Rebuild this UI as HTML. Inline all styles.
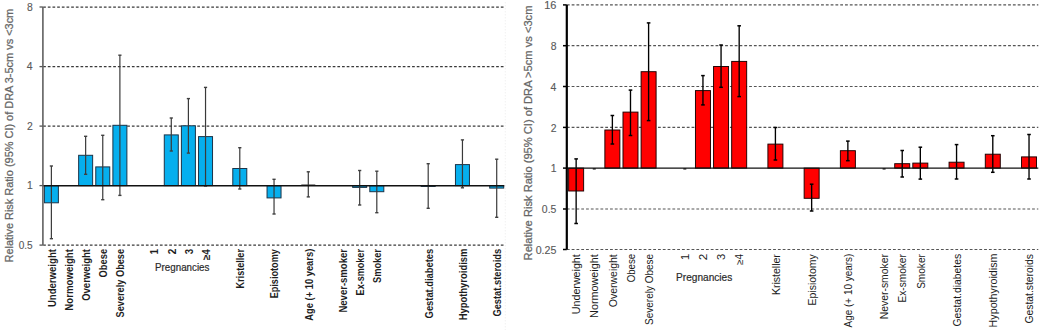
<!DOCTYPE html>
<html><head><meta charset="utf-8"><style>
html,body{margin:0;padding:0;background:#fff;}
body{width:1040px;height:332px;overflow:hidden;}
svg{display:block;font-family:"Liberation Sans", sans-serif;}
</style></head><body>
<svg width="1040" height="332" viewBox="0 0 1040 332">
<rect width="1040" height="332" fill="#fff"/>
<line x1="43.15" y1="7.0" x2="504.6" y2="7.0" stroke="#3a3a3a" stroke-width="1.25" stroke-dasharray="2.7 1.97"/>
<line x1="43.15" y1="66.6" x2="504.6" y2="66.6" stroke="#3a3a3a" stroke-width="1.25" stroke-dasharray="2.7 1.97"/>
<line x1="43.15" y1="126.1" x2="504.6" y2="126.1" stroke="#3a3a3a" stroke-width="1.25" stroke-dasharray="2.7 1.97"/>
<line x1="43.15" y1="245.1" x2="504.6" y2="245.1" stroke="#3a3a3a" stroke-width="1.25" stroke-dasharray="2.7 1.97"/>
<line x1="39.5" y1="7.0" x2="42.9" y2="7.0" stroke="#555" stroke-width="1.3"/>
<line x1="39.5" y1="66.6" x2="42.9" y2="66.6" stroke="#555" stroke-width="1.3"/>
<line x1="39.5" y1="126.1" x2="42.9" y2="126.1" stroke="#555" stroke-width="1.3"/>
<line x1="39.5" y1="185.6" x2="42.9" y2="185.6" stroke="#555" stroke-width="1.3"/>
<line x1="39.5" y1="245.1" x2="42.9" y2="245.1" stroke="#555" stroke-width="1.3"/>
<text x="26.96" y="10.60" font-size="10.4" stroke="#595959" stroke-width="0.12" fill="#595959" textLength="5.78" lengthAdjust="spacingAndGlyphs">8</text>
<text x="26.82" y="70.20" font-size="10.4" stroke="#595959" stroke-width="0.12" fill="#595959" textLength="5.78" lengthAdjust="spacingAndGlyphs">4</text>
<text x="27.04" y="129.70" font-size="10.4" stroke="#595959" stroke-width="0.12" fill="#595959" textLength="5.78" lengthAdjust="spacingAndGlyphs">2</text>
<text x="27.03" y="189.20" font-size="10.4" stroke="#595959" stroke-width="0.12" fill="#595959" textLength="5.78" lengthAdjust="spacingAndGlyphs">1</text>
<text x="18.71" y="248.70" font-size="10.4" stroke="#595959" stroke-width="0.12" fill="#595959" textLength="14.02" lengthAdjust="spacingAndGlyphs">0.5</text>
<rect x="44.38" y="185.6" width="14.0" height="17.20" fill="#06AFEE" stroke="#1c3448" stroke-width="1"/>
<rect x="78.64" y="155.3" width="14.0" height="30.30" fill="#06AFEE" stroke="#1c3448" stroke-width="1"/>
<rect x="95.76" y="166.9" width="14.0" height="18.70" fill="#06AFEE" stroke="#1c3448" stroke-width="1"/>
<rect x="112.89" y="125.3" width="14.0" height="60.30" fill="#06AFEE" stroke="#1c3448" stroke-width="1"/>
<rect x="164.28" y="134.9" width="14.0" height="50.70" fill="#06AFEE" stroke="#1c3448" stroke-width="1"/>
<rect x="181.40" y="125.8" width="14.0" height="59.80" fill="#06AFEE" stroke="#1c3448" stroke-width="1"/>
<rect x="198.53" y="136.6" width="14.0" height="49.00" fill="#06AFEE" stroke="#1c3448" stroke-width="1"/>
<rect x="232.79" y="168.5" width="14.0" height="17.10" fill="#06AFEE" stroke="#1c3448" stroke-width="1"/>
<rect x="267.04" y="185.6" width="14.0" height="12.30" fill="#06AFEE" stroke="#1c3448" stroke-width="1"/>
<line x1="301.30" y1="184.6" x2="315.30" y2="184.6" stroke="#8a8a8a" stroke-width="1"/>
<rect x="352.68" y="185.6" width="14.0" height="1.80" fill="#06AFEE" stroke="#1c3448" stroke-width="1"/>
<rect x="369.81" y="185.6" width="14.0" height="6.10" fill="#06AFEE" stroke="#1c3448" stroke-width="1"/>
<rect x="421.20" y="185.6" width="14.0" height="0.80" fill="#06AFEE" stroke="#1c3448" stroke-width="1"/>
<rect x="455.45" y="164.6" width="14.0" height="21.00" fill="#06AFEE" stroke="#1c3448" stroke-width="1"/>
<rect x="489.71" y="185.6" width="14.0" height="2.50" fill="#06AFEE" stroke="#1c3448" stroke-width="1"/>
<line x1="51.38" y1="166" x2="51.38" y2="238.7" stroke="#3a3a3a" stroke-width="1.2"/>
<line x1="49.78" y1="166" x2="52.98" y2="166" stroke="#404040" stroke-width="1.4"/>
<line x1="49.78" y1="238.7" x2="52.98" y2="238.7" stroke="#404040" stroke-width="1.4"/>
<line x1="85.64" y1="136.3" x2="85.64" y2="174.3" stroke="#3a3a3a" stroke-width="1.2"/>
<line x1="84.04" y1="136.3" x2="87.24" y2="136.3" stroke="#404040" stroke-width="1.4"/>
<line x1="84.04" y1="174.3" x2="87.24" y2="174.3" stroke="#404040" stroke-width="1.4"/>
<line x1="102.76" y1="135.3" x2="102.76" y2="199.7" stroke="#3a3a3a" stroke-width="1.2"/>
<line x1="101.16" y1="135.3" x2="104.36" y2="135.3" stroke="#404040" stroke-width="1.4"/>
<line x1="101.16" y1="199.7" x2="104.36" y2="199.7" stroke="#404040" stroke-width="1.4"/>
<line x1="119.89" y1="55.2" x2="119.89" y2="195.4" stroke="#3a3a3a" stroke-width="1.2"/>
<line x1="118.29" y1="55.2" x2="121.49" y2="55.2" stroke="#404040" stroke-width="1.4"/>
<line x1="118.29" y1="195.4" x2="121.49" y2="195.4" stroke="#404040" stroke-width="1.4"/>
<line x1="171.28" y1="118" x2="171.28" y2="151" stroke="#3a3a3a" stroke-width="1.2"/>
<line x1="169.68" y1="118" x2="172.88" y2="118" stroke="#404040" stroke-width="1.4"/>
<line x1="169.68" y1="151" x2="172.88" y2="151" stroke="#404040" stroke-width="1.4"/>
<line x1="188.40" y1="98.6" x2="188.40" y2="153.1" stroke="#3a3a3a" stroke-width="1.2"/>
<line x1="186.80" y1="98.6" x2="190.00" y2="98.6" stroke="#404040" stroke-width="1.4"/>
<line x1="186.80" y1="153.1" x2="190.00" y2="153.1" stroke="#404040" stroke-width="1.4"/>
<line x1="205.53" y1="87.4" x2="205.53" y2="186" stroke="#3a3a3a" stroke-width="1.2"/>
<line x1="203.93" y1="87.4" x2="207.13" y2="87.4" stroke="#404040" stroke-width="1.4"/>
<line x1="203.93" y1="186" x2="207.13" y2="186" stroke="#404040" stroke-width="1.4"/>
<line x1="239.79" y1="147.7" x2="239.79" y2="189" stroke="#3a3a3a" stroke-width="1.2"/>
<line x1="238.19" y1="147.7" x2="241.39" y2="147.7" stroke="#404040" stroke-width="1.4"/>
<line x1="238.19" y1="189" x2="241.39" y2="189" stroke="#404040" stroke-width="1.4"/>
<line x1="274.04" y1="179.3" x2="274.04" y2="214" stroke="#3a3a3a" stroke-width="1.2"/>
<line x1="272.44" y1="179.3" x2="275.64" y2="179.3" stroke="#404040" stroke-width="1.4"/>
<line x1="272.44" y1="214" x2="275.64" y2="214" stroke="#404040" stroke-width="1.4"/>
<line x1="308.30" y1="171.8" x2="308.30" y2="196.9" stroke="#3a3a3a" stroke-width="1.2"/>
<line x1="306.70" y1="171.8" x2="309.90" y2="171.8" stroke="#404040" stroke-width="1.4"/>
<line x1="306.70" y1="196.9" x2="309.90" y2="196.9" stroke="#404040" stroke-width="1.4"/>
<line x1="359.68" y1="170.5" x2="359.68" y2="205" stroke="#3a3a3a" stroke-width="1.2"/>
<line x1="358.08" y1="170.5" x2="361.28" y2="170.5" stroke="#404040" stroke-width="1.4"/>
<line x1="358.08" y1="205" x2="361.28" y2="205" stroke="#404040" stroke-width="1.4"/>
<line x1="376.81" y1="171.2" x2="376.81" y2="212.7" stroke="#3a3a3a" stroke-width="1.2"/>
<line x1="375.21" y1="171.2" x2="378.41" y2="171.2" stroke="#404040" stroke-width="1.4"/>
<line x1="375.21" y1="212.7" x2="378.41" y2="212.7" stroke="#404040" stroke-width="1.4"/>
<line x1="428.20" y1="163.7" x2="428.20" y2="208.3" stroke="#3a3a3a" stroke-width="1.2"/>
<line x1="426.60" y1="163.7" x2="429.80" y2="163.7" stroke="#404040" stroke-width="1.4"/>
<line x1="426.60" y1="208.3" x2="429.80" y2="208.3" stroke="#404040" stroke-width="1.4"/>
<line x1="462.45" y1="139.9" x2="462.45" y2="187.8" stroke="#3a3a3a" stroke-width="1.2"/>
<line x1="460.85" y1="139.9" x2="464.05" y2="139.9" stroke="#404040" stroke-width="1.4"/>
<line x1="460.85" y1="187.8" x2="464.05" y2="187.8" stroke="#404040" stroke-width="1.4"/>
<line x1="496.71" y1="159.2" x2="496.71" y2="217.3" stroke="#3a3a3a" stroke-width="1.2"/>
<line x1="495.11" y1="159.2" x2="498.31" y2="159.2" stroke="#404040" stroke-width="1.4"/>
<line x1="495.11" y1="217.3" x2="498.31" y2="217.3" stroke="#404040" stroke-width="1.4"/>
<line x1="42.9" y1="185.7" x2="504.3" y2="185.7" stroke="#111" stroke-width="1.65"/>
<line x1="42.9" y1="7.0" x2="42.9" y2="245.1" stroke="#606060" stroke-width="1.6"/>
<text transform="translate(55.68,307.07) rotate(-90)" font-size="10.6" font-weight="bold" fill="#1e1e1e" textLength="57.99" lengthAdjust="spacingAndGlyphs">Underweight</text>
<text transform="translate(72.81,310.65) rotate(-90)" font-size="10.6" font-weight="bold" fill="#1e1e1e" textLength="61.56" lengthAdjust="spacingAndGlyphs">Normoweight</text>
<text transform="translate(89.94,300.79) rotate(-90)" font-size="10.6" font-weight="bold" fill="#1e1e1e" textLength="51.70" lengthAdjust="spacingAndGlyphs">Overweight</text>
<text transform="translate(107.06,277.38) rotate(-90)" font-size="10.6" font-weight="bold" fill="#1e1e1e" textLength="28.50" lengthAdjust="spacingAndGlyphs">Obese</text>
<text transform="translate(124.19,317.47) rotate(-90)" font-size="10.6" font-weight="bold" fill="#1e1e1e" textLength="68.58" lengthAdjust="spacingAndGlyphs">Severely Obese</text>
<text transform="translate(158.45,254.42) rotate(-90)" font-size="10.6" font-weight="bold" fill="#1e1e1e" textLength="5.50" lengthAdjust="spacingAndGlyphs">1</text>
<text transform="translate(175.58,254.35) rotate(-90)" font-size="10.6" font-weight="bold" fill="#1e1e1e" textLength="5.55" lengthAdjust="spacingAndGlyphs">2</text>
<text transform="translate(192.70,254.22) rotate(-90)" font-size="10.6" font-weight="bold" fill="#1e1e1e" textLength="5.37" lengthAdjust="spacingAndGlyphs">3</text>
<text transform="translate(209.83,260.04) rotate(-90)" font-size="10.6" font-weight="bold" fill="#1e1e1e" textLength="10.89" lengthAdjust="spacingAndGlyphs">≥4</text>
<text transform="translate(244.09,288.51) rotate(-90)" font-size="10.6" font-weight="bold" fill="#1e1e1e" textLength="39.45" lengthAdjust="spacingAndGlyphs">Kristeller</text>
<text transform="translate(278.34,298.31) rotate(-90)" font-size="10.6" font-weight="bold" fill="#1e1e1e" textLength="49.15" lengthAdjust="spacingAndGlyphs">Episiotomy</text>
<text transform="translate(312.60,320.73) rotate(-90)" font-size="10.6" font-weight="bold" fill="#1e1e1e" textLength="72.00" lengthAdjust="spacingAndGlyphs">Age (+ 10 years)</text>
<text transform="translate(346.86,312.54) rotate(-90)" font-size="10.6" font-weight="bold" fill="#1e1e1e" textLength="63.48" lengthAdjust="spacingAndGlyphs">Never-smoker</text>
<text transform="translate(363.98,295.41) rotate(-90)" font-size="10.6" font-weight="bold" fill="#1e1e1e" textLength="46.34" lengthAdjust="spacingAndGlyphs">Ex-smoker</text>
<text transform="translate(381.11,282.97) rotate(-90)" font-size="10.6" font-weight="bold" fill="#1e1e1e" textLength="33.91" lengthAdjust="spacingAndGlyphs">Smoker</text>
<text transform="translate(432.50,318.38) rotate(-90)" font-size="10.6" font-weight="bold" fill="#1e1e1e" textLength="69.57" lengthAdjust="spacingAndGlyphs">Gestat.diabetes</text>
<text transform="translate(466.75,320.33) rotate(-90)" font-size="10.6" font-weight="bold" fill="#1e1e1e" textLength="71.71" lengthAdjust="spacingAndGlyphs">Hypothyroidism</text>
<text transform="translate(501.01,316.58) rotate(-90)" font-size="10.6" font-weight="bold" fill="#1e1e1e" textLength="67.77" lengthAdjust="spacingAndGlyphs">Gestat.steroids</text>
<text x="155.10" y="270.70" font-size="10.6" stroke="#2a2a2a" stroke-width="0.2" fill="#2a2a2a" textLength="54.35" lengthAdjust="spacingAndGlyphs">Pregnancies</text>
<text transform="translate(12.90,262.50) rotate(-90)" font-size="10.4" stroke="#666" stroke-width="0.25" fill="#666" textLength="253.72" lengthAdjust="spacingAndGlyphs">Relative Risk Ratio (95% CI) of DRA 3-5cm vs &lt;3cm</text>
<line x1="566.86" y1="4.9" x2="1038.3" y2="4.9" stroke="#555" stroke-width="1.2" stroke-dasharray="2.8 1.996"/>
<line x1="566.86" y1="45.7" x2="1038.3" y2="45.7" stroke="#555" stroke-width="1.2" stroke-dasharray="2.8 1.996"/>
<line x1="566.86" y1="86.5" x2="1038.3" y2="86.5" stroke="#555" stroke-width="1.2" stroke-dasharray="2.8 1.996"/>
<line x1="566.86" y1="127.4" x2="1038.3" y2="127.4" stroke="#555" stroke-width="1.2" stroke-dasharray="2.8 1.996"/>
<line x1="566.86" y1="209.0" x2="1038.3" y2="209.0" stroke="#555" stroke-width="1.2" stroke-dasharray="2.8 1.996"/>
<line x1="566.86" y1="249.5" x2="1038.3" y2="249.5" stroke="#555" stroke-width="1.2" stroke-dasharray="2.8 1.996"/>
<line x1="563" y1="4.9" x2="566.8" y2="4.9" stroke="#000" stroke-width="1.5"/>
<line x1="563" y1="45.7" x2="566.8" y2="45.7" stroke="#000" stroke-width="1.5"/>
<line x1="563" y1="86.5" x2="566.8" y2="86.5" stroke="#000" stroke-width="1.5"/>
<line x1="563" y1="127.4" x2="566.8" y2="127.4" stroke="#000" stroke-width="1.5"/>
<line x1="563" y1="168.1" x2="566.8" y2="168.1" stroke="#000" stroke-width="1.5"/>
<line x1="563" y1="209.0" x2="566.8" y2="209.0" stroke="#000" stroke-width="1.5"/>
<line x1="563" y1="249.5" x2="566.8" y2="249.5" stroke="#000" stroke-width="1.5"/>
<text x="544.26" y="9.20" font-size="10.4" stroke="#595959" stroke-width="0.12" fill="#595959" textLength="12.22" lengthAdjust="spacingAndGlyphs">16</text>
<text x="550.66" y="50.00" font-size="10.4" stroke="#595959" stroke-width="0.12" fill="#595959" textLength="5.78" lengthAdjust="spacingAndGlyphs">8</text>
<text x="550.52" y="90.80" font-size="10.4" stroke="#595959" stroke-width="0.12" fill="#595959" textLength="5.78" lengthAdjust="spacingAndGlyphs">4</text>
<text x="550.74" y="131.70" font-size="10.4" stroke="#595959" stroke-width="0.12" fill="#595959" textLength="5.78" lengthAdjust="spacingAndGlyphs">2</text>
<text x="550.73" y="172.40" font-size="10.4" stroke="#595959" stroke-width="0.12" fill="#595959" textLength="5.78" lengthAdjust="spacingAndGlyphs">1</text>
<text x="541.89" y="213.30" font-size="10.4" stroke="#595959" stroke-width="0.12" fill="#595959" textLength="14.55" lengthAdjust="spacingAndGlyphs">0.5</text>
<text x="535.68" y="253.80" font-size="10.4" stroke="#595959" stroke-width="0.12" fill="#595959" textLength="20.77" lengthAdjust="spacingAndGlyphs">0.25</text>
<rect x="568.64" y="168.1" width="15.0" height="22.90" fill="#FF0000" stroke="#1a0000" stroke-width="0.95"/>
<rect x="604.87" y="130" width="15.0" height="38.10" fill="#FF0000" stroke="#1a0000" stroke-width="0.95"/>
<rect x="622.99" y="112.1" width="15.0" height="56.00" fill="#FF0000" stroke="#1a0000" stroke-width="0.95"/>
<rect x="641.10" y="71.7" width="15.0" height="96.40" fill="#FF0000" stroke="#1a0000" stroke-width="0.95"/>
<rect x="695.45" y="90.6" width="15.0" height="77.50" fill="#FF0000" stroke="#1a0000" stroke-width="0.95"/>
<rect x="713.56" y="66.5" width="15.0" height="101.60" fill="#FF0000" stroke="#1a0000" stroke-width="0.95"/>
<rect x="731.68" y="61.4" width="15.0" height="106.70" fill="#FF0000" stroke="#1a0000" stroke-width="0.95"/>
<rect x="767.91" y="144.1" width="15.0" height="24.00" fill="#FF0000" stroke="#1a0000" stroke-width="0.95"/>
<rect x="804.14" y="168.1" width="15.0" height="30.20" fill="#FF0000" stroke="#1a0000" stroke-width="0.95"/>
<rect x="840.37" y="150.7" width="15.0" height="17.40" fill="#FF0000" stroke="#1a0000" stroke-width="0.95"/>
<rect x="894.72" y="163.7" width="15.0" height="4.40" fill="#FF0000" stroke="#1a0000" stroke-width="0.95"/>
<rect x="912.83" y="163.1" width="15.0" height="5.00" fill="#FF0000" stroke="#1a0000" stroke-width="0.95"/>
<rect x="949.06" y="162.2" width="15.0" height="5.90" fill="#FF0000" stroke="#1a0000" stroke-width="0.95"/>
<rect x="985.29" y="154.2" width="15.0" height="13.90" fill="#FF0000" stroke="#1a0000" stroke-width="0.95"/>
<rect x="1021.53" y="156.9" width="15.0" height="11.20" fill="#FF0000" stroke="#1a0000" stroke-width="0.95"/>
<line x1="576.14" y1="158.9" x2="576.14" y2="223.5" stroke="#000" stroke-width="1.35"/>
<line x1="574.34" y1="158.9" x2="577.94" y2="158.9" stroke="#000" stroke-width="1.5"/>
<line x1="574.34" y1="223.5" x2="577.94" y2="223.5" stroke="#000" stroke-width="1.5"/>
<line x1="612.37" y1="115.5" x2="612.37" y2="144" stroke="#000" stroke-width="1.35"/>
<line x1="610.57" y1="115.5" x2="614.17" y2="115.5" stroke="#000" stroke-width="1.5"/>
<line x1="610.57" y1="144" x2="614.17" y2="144" stroke="#000" stroke-width="1.5"/>
<line x1="630.49" y1="90.1" x2="630.49" y2="135.5" stroke="#000" stroke-width="1.35"/>
<line x1="628.69" y1="90.1" x2="632.29" y2="90.1" stroke="#000" stroke-width="1.5"/>
<line x1="628.69" y1="135.5" x2="632.29" y2="135.5" stroke="#000" stroke-width="1.5"/>
<line x1="648.60" y1="22.9" x2="648.60" y2="120.6" stroke="#000" stroke-width="1.35"/>
<line x1="646.80" y1="22.9" x2="650.40" y2="22.9" stroke="#000" stroke-width="1.5"/>
<line x1="646.80" y1="120.6" x2="650.40" y2="120.6" stroke="#000" stroke-width="1.5"/>
<line x1="702.95" y1="75.6" x2="702.95" y2="104.9" stroke="#000" stroke-width="1.35"/>
<line x1="701.15" y1="75.6" x2="704.75" y2="75.6" stroke="#000" stroke-width="1.5"/>
<line x1="701.15" y1="104.9" x2="704.75" y2="104.9" stroke="#000" stroke-width="1.5"/>
<line x1="721.06" y1="45" x2="721.06" y2="87.3" stroke="#000" stroke-width="1.35"/>
<line x1="719.26" y1="45" x2="722.86" y2="45" stroke="#000" stroke-width="1.5"/>
<line x1="719.26" y1="87.3" x2="722.86" y2="87.3" stroke="#000" stroke-width="1.5"/>
<line x1="739.18" y1="25.8" x2="739.18" y2="96.6" stroke="#000" stroke-width="1.35"/>
<line x1="737.38" y1="25.8" x2="740.98" y2="25.8" stroke="#000" stroke-width="1.5"/>
<line x1="737.38" y1="96.6" x2="740.98" y2="96.6" stroke="#000" stroke-width="1.5"/>
<line x1="775.41" y1="127.5" x2="775.41" y2="160" stroke="#000" stroke-width="1.35"/>
<line x1="773.61" y1="127.5" x2="777.21" y2="127.5" stroke="#000" stroke-width="1.5"/>
<line x1="773.61" y1="160" x2="777.21" y2="160" stroke="#000" stroke-width="1.5"/>
<line x1="811.64" y1="184.2" x2="811.64" y2="211" stroke="#000" stroke-width="1.35"/>
<line x1="809.84" y1="184.2" x2="813.44" y2="184.2" stroke="#000" stroke-width="1.5"/>
<line x1="809.84" y1="211" x2="813.44" y2="211" stroke="#000" stroke-width="1.5"/>
<line x1="847.87" y1="141.1" x2="847.87" y2="160.7" stroke="#000" stroke-width="1.35"/>
<line x1="846.07" y1="141.1" x2="849.67" y2="141.1" stroke="#000" stroke-width="1.5"/>
<line x1="846.07" y1="160.7" x2="849.67" y2="160.7" stroke="#000" stroke-width="1.5"/>
<line x1="902.22" y1="150.5" x2="902.22" y2="177" stroke="#000" stroke-width="1.35"/>
<line x1="900.42" y1="150.5" x2="904.02" y2="150.5" stroke="#000" stroke-width="1.5"/>
<line x1="900.42" y1="177" x2="904.02" y2="177" stroke="#000" stroke-width="1.5"/>
<line x1="920.33" y1="147.2" x2="920.33" y2="179.1" stroke="#000" stroke-width="1.35"/>
<line x1="918.53" y1="147.2" x2="922.13" y2="147.2" stroke="#000" stroke-width="1.5"/>
<line x1="918.53" y1="179.1" x2="922.13" y2="179.1" stroke="#000" stroke-width="1.5"/>
<line x1="956.56" y1="144.6" x2="956.56" y2="179" stroke="#000" stroke-width="1.35"/>
<line x1="954.76" y1="144.6" x2="958.36" y2="144.6" stroke="#000" stroke-width="1.5"/>
<line x1="954.76" y1="179" x2="958.36" y2="179" stroke="#000" stroke-width="1.5"/>
<line x1="992.79" y1="135.7" x2="992.79" y2="172.3" stroke="#000" stroke-width="1.35"/>
<line x1="990.99" y1="135.7" x2="994.59" y2="135.7" stroke="#000" stroke-width="1.5"/>
<line x1="990.99" y1="172.3" x2="994.59" y2="172.3" stroke="#000" stroke-width="1.5"/>
<line x1="1029.03" y1="134.5" x2="1029.03" y2="179" stroke="#000" stroke-width="1.35"/>
<line x1="1027.23" y1="134.5" x2="1030.83" y2="134.5" stroke="#000" stroke-width="1.5"/>
<line x1="1027.23" y1="179" x2="1030.83" y2="179" stroke="#000" stroke-width="1.5"/>
<line x1="592.76" y1="168.9" x2="595.76" y2="168.9" stroke="#000" stroke-width="1.2"/>
<line x1="683.33" y1="168.9" x2="686.33" y2="168.9" stroke="#000" stroke-width="1.2"/>
<line x1="882.60" y1="168.9" x2="885.60" y2="168.9" stroke="#000" stroke-width="1.2"/>
<line x1="566.8" y1="168.1" x2="1038.3" y2="168.1" stroke="#111" stroke-width="1.4"/>
<line x1="566.8" y1="5.0" x2="566.8" y2="249.4" stroke="#000" stroke-width="2.2"/>
<text transform="translate(580.34,314.22) rotate(-90)" font-size="10.0" fill="#1a1a1a" textLength="60.00" lengthAdjust="spacingAndGlyphs">Underweight</text>
<text transform="translate(598.46,317.89) rotate(-90)" font-size="10.0" fill="#1a1a1a" textLength="63.66" lengthAdjust="spacingAndGlyphs">Normoweight</text>
<text transform="translate(616.57,307.19) rotate(-90)" font-size="10.0" fill="#1a1a1a" textLength="52.96" lengthAdjust="spacingAndGlyphs">Overweight</text>
<text transform="translate(634.69,282.35) rotate(-90)" font-size="10.0" fill="#1a1a1a" textLength="28.48" lengthAdjust="spacingAndGlyphs">Obese</text>
<text transform="translate(652.80,324.95) rotate(-90)" font-size="10.0" fill="#1a1a1a" textLength="71.09" lengthAdjust="spacingAndGlyphs">Severely Obese</text>
<text transform="translate(689.03,260.30) rotate(-90)" font-size="10.0" fill="#1a1a1a" textLength="6.58" lengthAdjust="spacingAndGlyphs">1</text>
<text transform="translate(707.15,260.18) rotate(-90)" font-size="10.0" fill="#1a1a1a" textLength="6.46" lengthAdjust="spacingAndGlyphs">2</text>
<text transform="translate(725.26,260.02) rotate(-90)" font-size="10.0" fill="#1a1a1a" textLength="6.22" lengthAdjust="spacingAndGlyphs">3</text>
<text transform="translate(743.38,264.92) rotate(-90)" font-size="10.0" fill="#1a1a1a" textLength="10.90" lengthAdjust="spacingAndGlyphs">≥4</text>
<text transform="translate(779.61,295.06) rotate(-90)" font-size="10.0" fill="#1a1a1a" textLength="40.93" lengthAdjust="spacingAndGlyphs">Kristeller</text>
<text transform="translate(815.84,305.46) rotate(-90)" font-size="10.0" fill="#1a1a1a" textLength="51.18" lengthAdjust="spacingAndGlyphs">Episiotomy</text>
<text transform="translate(852.07,327.42) rotate(-90)" font-size="10.0" fill="#1a1a1a" textLength="73.74" lengthAdjust="spacingAndGlyphs">Age (+ 10 years)</text>
<text transform="translate(888.30,319.15) rotate(-90)" font-size="10.0" fill="#1a1a1a" textLength="65.01" lengthAdjust="spacingAndGlyphs">Never-smoker</text>
<text transform="translate(906.42,302.43) rotate(-90)" font-size="10.0" fill="#1a1a1a" textLength="48.29" lengthAdjust="spacingAndGlyphs">Ex-smoker</text>
<text transform="translate(924.53,288.85) rotate(-90)" font-size="10.0" fill="#1a1a1a" textLength="34.72" lengthAdjust="spacingAndGlyphs">Smoker</text>
<text transform="translate(960.76,326.52) rotate(-90)" font-size="10.0" fill="#1a1a1a" textLength="72.60" lengthAdjust="spacingAndGlyphs">Gestat.diabetes</text>
<text transform="translate(996.99,327.38) rotate(-90)" font-size="10.0" fill="#1a1a1a" textLength="73.79" lengthAdjust="spacingAndGlyphs">Hypothyroidism</text>
<text transform="translate(1033.23,323.62) rotate(-90)" font-size="10.0" fill="#1a1a1a" textLength="69.69" lengthAdjust="spacingAndGlyphs">Gestat.steroids</text>
<text x="676.07" y="280.50" font-size="10.8" stroke="#2a2a2a" stroke-width="0.2" fill="#2a2a2a" textLength="56.19" lengthAdjust="spacingAndGlyphs">Pregnancies</text>
<text transform="translate(531.80,260.41) rotate(-90)" font-size="10.6" stroke="#666" stroke-width="0.25" fill="#666" textLength="254.85" lengthAdjust="spacingAndGlyphs">Relative Risk Ratio (95% CI) of DRA &gt;5cm vs &lt;3cm</text>
<line x1="505.3" y1="2" x2="505.3" y2="330" stroke="#eeeeee" stroke-width="0.8" stroke-dasharray="1.5 1.5"/>
</svg>
</body></html>
